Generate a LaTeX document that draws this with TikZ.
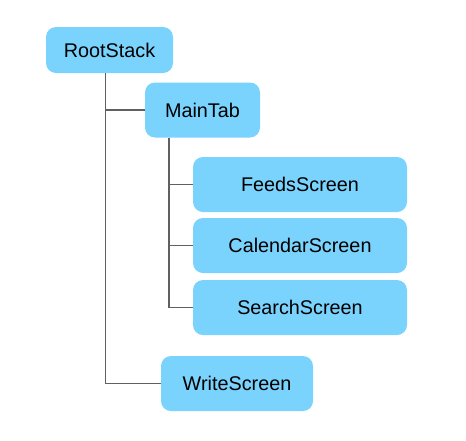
\documentclass[tikz,border=0pt]{standalone}
\usepackage{fontspec}
\setmainfont{Liberation Sans}
\definecolor{boxblue}{HTML}{7AD3FD}
\definecolor{linegray}{HTML}{606060}
\begin{document}
\begin{tikzpicture}[x=1pt,y=-1pt,
  box/.style={draw=none,fill=boxblue,rounded corners=10pt,inner sep=0pt,font=\fontsize{19.8}{22}\selectfont,text=black},
  conn/.style={draw=linegray,line width=1.6pt}]
\useasboundingbox (0,0) rectangle (466,440);
\node[box,minimum width=127pt,minimum height=46pt] (root) at (109.5,50) {RootStack};
\node[box,minimum width=115pt,minimum height=55pt] (main) at (202.5,110) {MainTab};
\node[box,minimum width=214pt,minimum height=55pt] (feeds) at (300,184.5) {FeedsScreen};
\node[box,minimum width=214pt,minimum height=55pt] (cal) at (300,245.5) {CalendarScreen};
\node[box,minimum width=214pt,minimum height=55pt] (search) at (300,307.5) {SearchScreen};
\node[box,minimum width=152pt,minimum height=55pt] (write) at (237,383.5) {WriteScreen};
\coordinate (rs) at ([xshift=-4pt]root.south);
\coordinate (ms) at ([xshift=24pt]main.south west);
\draw[conn] (rs) -- (rs |- write.west) -- (write.west);
\draw[conn] (rs |- main.west) -- (main.west);
\draw[conn] (ms) -- (ms |- search.west) -- (search.west);
\draw[conn] (ms |- feeds.west) -- (feeds.west);
\draw[conn] (ms |- cal.west) -- (cal.west);
\end{tikzpicture}
\end{document}
